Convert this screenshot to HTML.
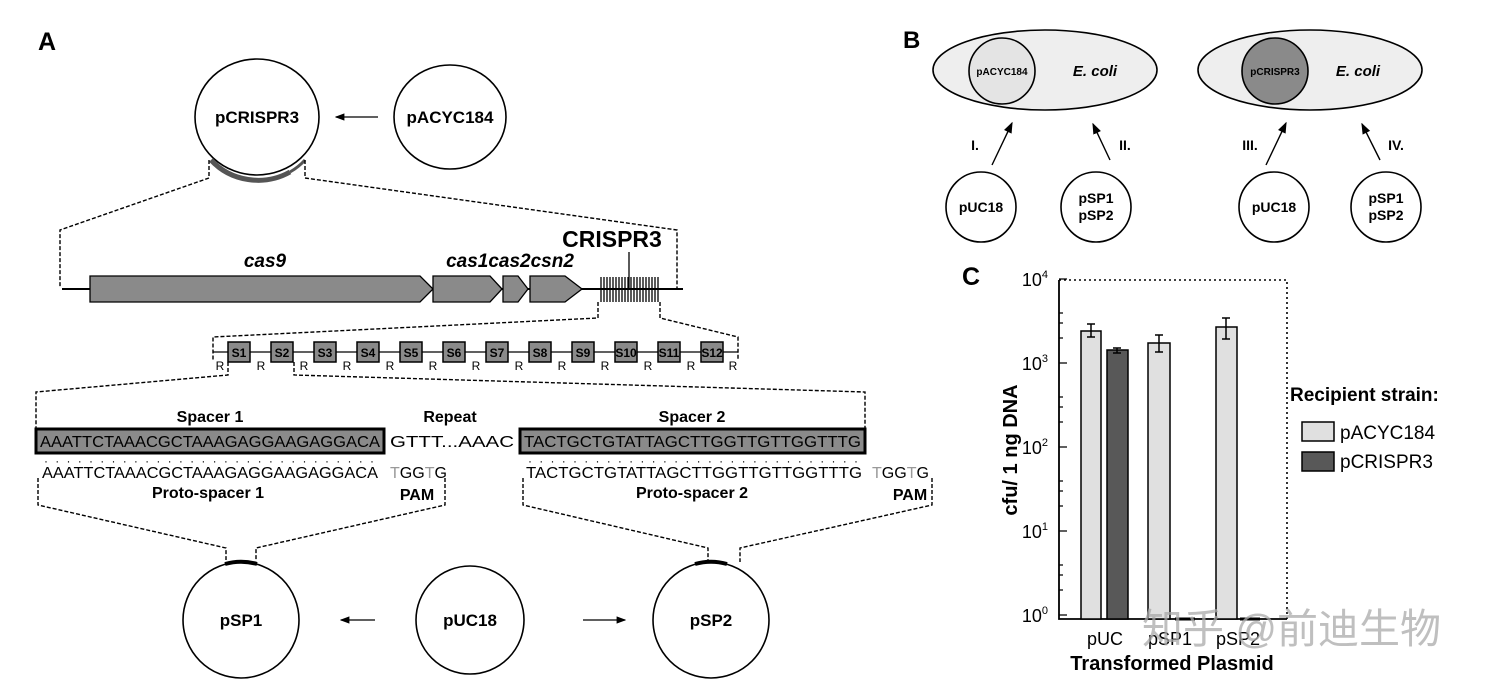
<!DOCTYPE html>
<html><head><meta charset="utf-8"><style>
body{margin:0;background:#fff}
svg{display:block}
text{font-family:"Liberation Sans",Arial,sans-serif}
.b{font-weight:bold}
.m{font-family:"Liberation Mono",monospace}
</style></head><body>
<svg width="1500" height="687" viewBox="0 0 1500 687" xmlns="http://www.w3.org/2000/svg">
<defs><marker id="ah" markerWidth="8" markerHeight="8" refX="7" refY="4" orient="auto"><path d="M0,1 L8,4 L0,7 Z" fill="#000"/></marker></defs>
<g stroke="#000" fill="none" stroke-width="1.6">
<ellipse cx="257" cy="117" rx="62" ry="58" fill="#fff"/>
<ellipse cx="450" cy="117" rx="56" ry="52" fill="#fff"/>
<line x1="378" y1="117" x2="336" y2="117" stroke-width="1.2" marker-end="url(#ah)"/>
<path d="M211,160 A62,58 0 0 0 290,172" stroke="#555" stroke-width="5"/>
<path d="M290,172 A62,58 0 0 0 305,160" stroke="#555" stroke-width="3"/>
<g stroke-dasharray="4,2" stroke-width="1.4">
<polyline points="209,160 209,178 60,230 60,288"/>
<polyline points="305,160 305,178 677,230 677,288"/>
<polyline points="598,302 598,318 213,337 213,360"/>
<polyline points="660,302 660,318 738,337 738,360"/>
<polyline points="228,362 228,375 36,392 36,430"/>
<polyline points="294,362 294,375 865,392 865,430"/>
<polyline points="38,478 38,505 226,548 226,560"/>
<polyline points="445,478 445,505 256,548 256,560"/>
<polyline points="523,478 523,505 708,548 708,562"/>
<polyline points="932,478 932,505 740,548 740,562"/>
</g>
<line x1="62" y1="289" x2="683" y2="289" stroke-width="2"/>
<g fill="#8a8a8a" stroke-width="1.3">
<polygon points="90,276 420,276 433,289 420,302 90,302"/>
<polygon points="433,276 490,276 502,289 490,302 433,302"/>
<polygon points="503,276 518,276 528,289 518,302 503,302"/>
<polygon points="530,276 565,276 582,289 565,302 530,302"/>
</g>
<g stroke-width="1.3">
<path d="M601,277V302M604,277V302M607,277V302M610,277V302M613,277V302M616,277V302M619,277V302M622,277V302M625,277V302M628,277V302M631,277V302M634,277V302M637,277V302M640,277V302M643,277V302M646,277V302M649,277V302M652,277V302M655,277V302M658,277V302"/>
<line x1="629" y1="252" x2="629" y2="289"/>
</g>
<line x1="213" y1="352" x2="738" y2="352" stroke-width="1.2"/>
<g fill="#8a8a8a" stroke-width="1.5">
<rect x="228" y="342" width="22" height="20"/><rect x="271" y="342" width="22" height="20"/><rect x="314" y="342" width="22" height="20"/><rect x="357" y="342" width="22" height="20"/><rect x="400" y="342" width="22" height="20"/><rect x="443" y="342" width="22" height="20"/><rect x="486" y="342" width="22" height="20"/><rect x="529" y="342" width="22" height="20"/><rect x="572" y="342" width="22" height="20"/><rect x="615" y="342" width="22" height="20"/><rect x="658" y="342" width="22" height="20"/><rect x="701" y="342" width="22" height="20"/>
</g>
<rect x="36" y="429" width="348" height="24" fill="#8a8a8a" stroke-width="3"/>
<rect x="520" y="429" width="345" height="24" fill="#8a8a8a" stroke-width="3"/>
<circle cx="241" cy="620" r="58" fill="#fff"/>
<circle cx="470" cy="620" r="54" fill="#fff"/>
<circle cx="711" cy="620" r="58" fill="#fff"/>
<path d="M225,564 A58,58 0 0 1 257,564" stroke-width="4"/>
<path d="M695,564 A58,58 0 0 1 727,564" stroke-width="4"/>
<line x1="375" y1="620" x2="341" y2="620" stroke-width="1.2" marker-end="url(#ah)"/>
<line x1="583" y1="620" x2="625" y2="620" stroke-width="1.2" marker-end="url(#ah)"/>
<ellipse cx="1045" cy="70" rx="112" ry="40" fill="#eee"/>
<circle cx="1002" cy="71" r="33" fill="#e4e4e4"/>
<ellipse cx="1310" cy="70" rx="112" ry="40" fill="#eee"/>
<circle cx="1275" cy="71" r="33" fill="#8a8a8a"/>
<circle cx="981" cy="207" r="35" fill="#fff"/>
<circle cx="1096" cy="207" r="35" fill="#fff"/>
<circle cx="1274" cy="207" r="35" fill="#fff"/>
<circle cx="1386" cy="207" r="35" fill="#fff"/>
<g stroke-width="1.4">
<line x1="992" y1="165" x2="1012" y2="123" marker-end="url(#ah)"/>
<line x1="1110" y1="160" x2="1093" y2="124" marker-end="url(#ah)"/>
<line x1="1266" y1="165" x2="1286" y2="123" marker-end="url(#ah)"/>
<line x1="1380" y1="160" x2="1362" y2="124" marker-end="url(#ah)"/>
</g>
<path d="M1059,280 V619 H1287" stroke-width="1.8"/>
<path d="M1059,280 H1287 V619" stroke-width="1.6" stroke-dasharray="2,3"/>
<g stroke-width="1.3">
<path d="M1059,279h8M1059,363h8M1059,447h8M1059,531h8M1059,615h8"/>
<path d="M1059,338h4M1059,323h4M1059,313h4M1059,422h4M1059,407h4M1059,397h4M1059,506h4M1059,491h4M1059,481h4M1059,590h4M1059,575h4M1059,565h4"/>
</g>
<g stroke-width="1.5">
<rect x="1081" y="331" width="20" height="288" fill="#e0e0e0"/>
<rect x="1107" y="350" width="21" height="269" fill="#585858"/>
<rect x="1148" y="343" width="22" height="276" fill="#e0e0e0"/>
<rect x="1216" y="327" width="21" height="292" fill="#e0e0e0"/>
<path d="M1091,324V337M1087,324h8M1087,337h8"/>
<path d="M1117,348V353M1113,348h8M1113,353h8"/>
<path d="M1159,335V352M1155,335h8M1155,352h8"/>
<path d="M1226,318V339M1222,318h8M1222,339h8"/>
<path d="M1175,619h20M1240,619h20" stroke-width="3"/>
<rect x="1302" y="422" width="32" height="19" fill="#e0e0e0"/>
<rect x="1302" y="452" width="32" height="19" fill="#585858"/>
</g>
</g>
<text x="38" y="50" class="b" font-size="25">A</text>
<text x="257" y="123" class="b" font-size="17" text-anchor="middle">pCRISPR3</text>
<text x="450" y="123" class="b" font-size="17" text-anchor="middle">pACYC184</text>
<text x="265" y="267" class="b" font-size="19" font-style="italic" text-anchor="middle">cas9</text>
<text x="510" y="267" class="b" font-size="19" font-style="italic" text-anchor="middle">cas1cas2csn2</text>
<text x="612" y="247" class="b" font-size="23" text-anchor="middle">CRISPR3</text>
<g font-size="12" class="b" text-anchor="middle">
<text x="239" y="357">S1</text><text x="282" y="357">S2</text><text x="325" y="357">S3</text><text x="368" y="357">S4</text><text x="411" y="357">S5</text><text x="454" y="357">S6</text><text x="497" y="357">S7</text><text x="540" y="357">S8</text><text x="583" y="357">S9</text><text x="626" y="357">S10</text><text x="669" y="357">S11</text><text x="712" y="357">S12</text>
</g>
<g font-size="12" text-anchor="middle">
<text x="220" y="370">R</text><text x="261" y="370">R</text><text x="304" y="370">R</text><text x="347" y="370">R</text><text x="390" y="370">R</text><text x="433" y="370">R</text><text x="476" y="370">R</text><text x="519" y="370">R</text><text x="562" y="370">R</text><text x="605" y="370">R</text><text x="648" y="370">R</text><text x="691" y="370">R</text><text x="733" y="370">R</text>
</g>
<g class="b" font-size="16" text-anchor="middle">
<text x="210" y="422">Spacer 1</text><text x="450" y="422">Repeat</text><text x="692" y="422">Spacer 2</text>
<text x="208" y="498">Proto-spacer 1</text><text x="417" y="500">PAM</text>
<text x="692" y="498">Proto-spacer 2</text><text x="910" y="500">PAM</text>
</g>
<g class="m" font-size="15.5">
<text x="40" y="447" textLength="340" lengthAdjust="spacingAndGlyphs">AAATTCTAAACGCTAAAGAGGAAGAGGACA</text>
<text x="390" y="447" textLength="124" lengthAdjust="spacingAndGlyphs">GTTT...AAAC</text>
<text x="524" y="447" textLength="337" lengthAdjust="spacingAndGlyphs">TACTGCTGTATTAGCTTGGTTGTTGGTTTG</text>
<text x="42" y="478" textLength="336" lengthAdjust="spacingAndGlyphs">AAATTCTAAACGCTAAAGAGGAAGAGGACA</text>
<text x="390" y="478" textLength="57" lengthAdjust="spacingAndGlyphs"><tspan fill="#999">T</tspan>GG<tspan fill="#999">T</tspan>G</text>
<text x="526" y="478" textLength="336" lengthAdjust="spacingAndGlyphs">TACTGCTGTATTAGCTTGGTTGTTGGTTTG</text>
<text x="872" y="478" textLength="57" lengthAdjust="spacingAndGlyphs"><tspan fill="#999">T</tspan>GG<tspan fill="#999">T</tspan>G</text>
<text x="44" y="465" textLength="330" lengthAdjust="spacing" font-size="12">······························</text>
<text x="528" y="465" textLength="330" lengthAdjust="spacing" font-size="12">······························</text>
</g>
<text x="241" y="626" class="b" font-size="17" text-anchor="middle">pSP1</text>
<text x="470" y="626" class="b" font-size="17" text-anchor="middle">pUC18</text>
<text x="711" y="626" class="b" font-size="17" text-anchor="middle">pSP2</text>
<text x="903" y="48" class="b" font-size="24">B</text>
<text x="1002" y="75" class="b" font-size="10" text-anchor="middle">pACYC184</text>
<text x="1275" y="75" class="b" font-size="10" text-anchor="middle">pCRISPR3</text>
<text x="1095" y="76" class="b" font-size="15" font-style="italic" text-anchor="middle">E. coli</text>
<text x="1358" y="76" class="b" font-size="15" font-style="italic" text-anchor="middle">E. coli</text>
<g class="b" font-size="14" text-anchor="middle">
<text x="981" y="212">pUC18</text><text x="1274" y="212">pUC18</text>
<text x="1096" y="203">pSP1</text><text x="1096" y="220">pSP2</text>
<text x="1386" y="203">pSP1</text><text x="1386" y="220">pSP2</text>
<text x="975" y="150">I.</text><text x="1125" y="150">II.</text><text x="1250" y="150">III.</text><text x="1396" y="150">IV.</text>
</g>
<text x="962" y="285" class="b" font-size="25">C</text>
<g font-size="18" text-anchor="end">
<text x="1048" y="286">10<tspan dy="-8" font-size="11">4</tspan></text>
<text x="1048" y="370">10<tspan dy="-8" font-size="11">3</tspan></text>
<text x="1048" y="454">10<tspan dy="-8" font-size="11">2</tspan></text>
<text x="1048" y="538">10<tspan dy="-8" font-size="11">1</tspan></text>
<text x="1048" y="622">10<tspan dy="-8" font-size="11">0</tspan></text>
</g>
<text transform="translate(1017,450) rotate(-90)" class="b" font-size="20" text-anchor="middle">cfu/ 1 ng DNA</text>
<g font-size="18" text-anchor="middle">
<text x="1105" y="645">pUC</text><text x="1170" y="645">pSP1</text><text x="1238" y="645">pSP2</text>
</g>
<text x="1172" y="670" class="b" font-size="20" text-anchor="middle">Transformed Plasmid</text>
<text x="1290" y="401" class="b" font-size="19">Recipient strain:</text>
<text x="1340" y="439" font-size="19">pACYC184</text>
<text x="1340" y="468" font-size="19">pCRISPR3</text>
<text x="1142" y="643" font-size="41" fill="#aaa" fill-opacity="0.75" font-family="'Liberation Sans','Noto Sans CJK SC',sans-serif">知乎 @前迪生物</text>
</svg>
</body></html>
